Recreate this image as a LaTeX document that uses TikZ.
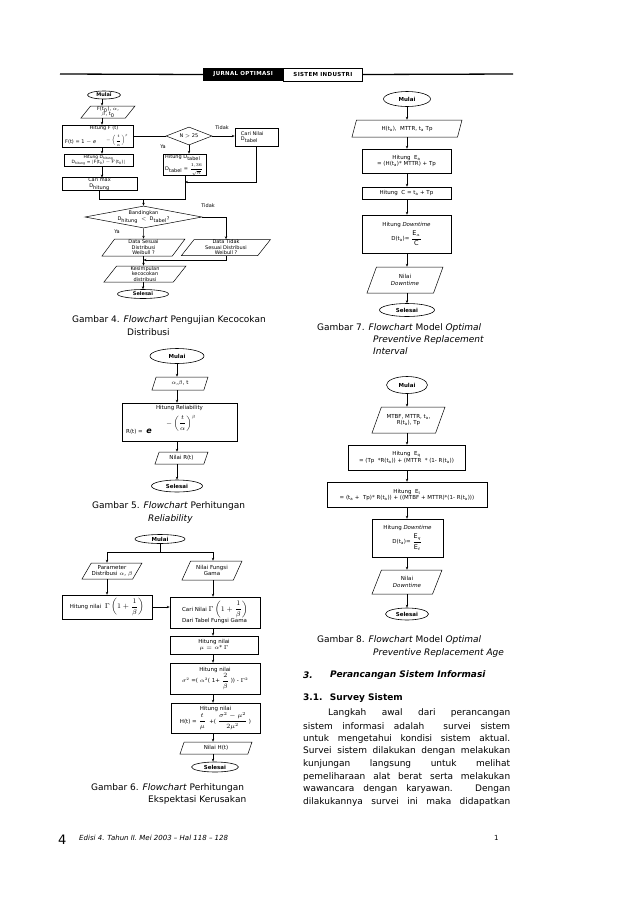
\RequirePackage{fix-cm}
\documentclass[tikz,border=0pt]{standalone}
\usepackage{fontspec}
\usepackage{amsmath}
\setmainfont{DejaVu Sans}
\usetikzlibrary{shapes.geometric,arrows.meta}
\newcommand{\sbs}[1]{\textsubscript{#1}}
\begin{document}
\begin{tikzpicture}[x=1pt,y=-1pt,
  fc/.style={font=\fontsize{5.5}{6}\selectfont, inner sep=0pt, align=center},
  fcs/.style={font=\fontsize{5}{5.6}\selectfont},
  term/.style={fc, ellipse, draw, line width=0.6pt, font=\fontsize{5.5}{6}\selectfont\bfseries},
  io/.style={fc, trapezium, trapezium left angle=50, trapezium right angle=130, trapezium stretches body, draw, line width=0.5pt},
  proc/.style={fc, rectangle, draw, line width=0.5pt},
  decis/.style={fc, diamond, draw, line width=0.5pt},
  arr/.style={-{Stealth[length=3pt,width=2.4pt]}, line width=0.5pt},
  wire/.style={line width=0.5pt},
  capt/.style={font=\fontsize{9}{11}\selectfont, anchor=west, inner sep=0pt},
  bodytxt/.style={font=\fontsize{9}{11}\selectfont, anchor=west, inner sep=0pt},
]
\useasboundingbox[fill=white] (0,0) rectangle (638,903);

% ---------- header ----------
\coordinate (hl1) at (60,74);
\coordinate (hl2) at (513,74);
\node[fill=black, text=white, minimum width=80, minimum height=13, inner sep=0pt, anchor=west,
      font=\fontsize{5.5}{6}\selectfont\bfseries\addfontfeatures{LetterSpace=6}] (hj) at (203,74.5) {JURNAL OPTIMASI};
\node[draw=black, line width=0.8pt, minimum width=79, minimum height=13, inner sep=0pt, anchor=west,
      font=\fontsize{5.5}{6}\selectfont\bfseries\addfontfeatures{LetterSpace=6}] (hs) at (283,74.5) {SISTEM INDUSTRI};
\draw[line width=1.3pt] (hl1) -- (hj.west);
\draw[line width=1.3pt] (hs.east) -- (hl2);

% ---------- Figure 4 ----------
\coordinate (c4) at (102,0);
\node[term, minimum width=33, minimum height=8, font=\fontsize{5}{5.5}\selectfont\bfseries] (m4) at (104,95) {Mulai};
\node[io, fcs, minimum width=54, minimum height=12] (p4) at (108,112) {F(t\sbs{0}), $\alpha$,\\ $\beta$, t\sbs{0}};
\node[proc, minimum width=71, minimum height=22] (r4a) at (97.5,136) {};
\node[fc, fcs] at (104,128.5) {Hitung F (t)};
\node[fc, fcs, anchor=west] at (65,142) {F(t) = 1 $-$ \textit{e}};
\node[fc, font=\fontsize{4.2}{5}\selectfont, anchor=west] at (106,140.5) {$-\left(\dfrac{t}{\alpha}\right)^{\beta}$};
\node[decis, minimum width=46, minimum height=18] (d4) at (189,136) {};
\node[fc, fcs] at (189,136) {N $>$ 25};
\node[proc, fcs, minimum width=43, minimum height=18, align=left] (r4b) at (256.5,137) {Cari Nilai\\ D\sbs{tabel}\hspace*{14pt}};
\node[proc, minimum width=43, minimum height=21] (r4c) at (185,164.5) {};
\node[fc, fcs, anchor=west] at (165,157.5) {Hitung D\sbs{tabel}};
\node[fc, fcs, anchor=west] at (165,169.5) {D\sbs{tabel} = {\fontsize{4.5}{5}\selectfont$\dfrac{1{,}36}{\sqrt{n}}$}};
\node[proc, font=\fontsize{4.4}{5}\selectfont, minimum width=69, minimum height=12] (r4d) at (98.5,160) {Hitung D\sbs{hitung}\\ D\sbs{hitung} = $|$F(t\sbs{0}) $-$ F'(t\sbs{0})$|$};
\node[proc, fcs, minimum width=75, minimum height=12] (r4e) at (99.5,184) {Cari max\\ D\sbs{hitung}};
\draw[arr] (c4 |- m4.south) -- (c4 |- p4.north);
\draw[arr] (c4 |- p4.south) -- (c4 |- r4a.north);
\draw[arr] (c4 |- r4a.south) -- (c4 |- r4d.north);
\draw[arr] (c4 |- r4d.south) -- (c4 |- r4e.north);
\draw[wire] (r4a.east) -- (d4.west);
\draw[arr] (d4.east) -- (d4.east -| r4b.west);
\node[fc, fcs] at (222,128) {Tidak};
\draw[arr] (d4.south) -- (d4.south |- r4c.north);
\node[fc, fcs] at (163,147) {Ya};
\coordinate (y4a) at (0,182);
\coordinate (y4b) at (0,199);
\draw[arr] (r4b.south) -- (r4b.south |- y4a) -- (r4c.south |- y4a);
\draw[wire] (r4e.south) -- (r4e.south |- y4b) -- (r4c.south |- y4b) -- (r4c.south);
\coordinate (j4) at (143.5,199);
\node[decis, minimum width=117, minimum height=22] (d4b) at (143.5,217) {};
\node[fc, fcs] at (143.5,217) {Bandingkan\\ D\sbs{hitung} \ $<$ \ D\sbs{tabel}?};
\draw[arr] (j4) -- (d4b.north);
\node[io, fcs, minimum width=83, minimum height=17] (p4a) at (143.5,247.5) {Data Sesuai\\ Distribusi\\ Weibull ?};
\node[io, fcs, minimum width=89, minimum height=16] (p4b) at (226,247.5) {Data Tidak\\ Sesuai Distribusi\\ Weibull ?};
\draw[arr] (d4b.east) -| (p4b.north);
\node[fc, fcs] at (208,206) {Tidak};
\draw[arr] (d4b.south) -- (p4a.north);
\node[fc, fcs] at (117,232) {Ya};
\coordinate (j4b) at (143.5,260);
\draw[arr] (p4b.south) |- (j4b);
\node[io, fcs, minimum width=82, minimum height=16] (p4c) at (145,274) {Kesimpulan\\ kecocokan\\ distribusi};
\draw[arr] (p4a.south) -- (p4a.south |- p4c.north);
\node[term, minimum width=51, minimum height=9, font=\fontsize{5}{5.5}\selectfont\bfseries] (s4) at (143,294) {Selesai};
\draw[arr] (s4.north |- p4c.south) -- (s4.north);
\node[capt] at (72,320) {Gambar 4. \textit{Flowchart} Pengujian Kecocokan};
\node[capt] at (127,332) {Distribusi};

% ---------- Figure 5 ----------
\coordinate (c5) at (177,0);
\node[term, minimum width=54, minimum height=15] (m5) at (177,356) {Mulai};
\node[io, minimum width=56, minimum height=13] (p5) at (180,383.5) {$\alpha$,$\beta$, t};
\node[proc, minimum width=115, minimum height=38] (r5) at (179.5,422) {};
\node[fc] at (179.5,407.5) {Hitung Reliability};
\node[fc, anchor=west] at (126,432) {R(t) =\ \ {\fontsize{8}{8}\selectfont\bfseries\itshape e}};
\node[fc, font=\fontsize{6.3}{7}\selectfont] at (181,423) {$-\left(\dfrac{t}{\alpha}\right)^{\beta}$};
\node[io, minimum width=53, minimum height=12] (p5b) at (181.5,458) {Nilai R(t)};
\node[term, minimum width=51, minimum height=12] (s5) at (177,486) {Selesai};
\draw[arr] (c5 |- m5.south) -- (c5 |- p5.north);
\draw[arr] (c5 |- p5.south) -- (c5 |- r5.north);
\draw[arr] (c5 |- r5.south) -- (c5 |- p5b.north);
\draw[arr] (c5 |- p5b.south) -- (c5 |- s5.north);
\node[capt] at (92,506) {Gambar 5. \textit{Flowchart} Perhitungan};
\node[capt] at (148,519) {\textit{Reliability}};

% ---------- Figure 6 ----------
\coordinate (c6a) at (107,0);
\coordinate (c6b) at (213,0);
\node[term, minimum width=50, minimum height=9] (m6) at (160,539) {Mulai};
\coordinate (j6) at (160,552);
\node[io, minimum width=60, minimum height=16] (p6a) at (112,571) {Parameter\\ Distribusi $\alpha$, $\beta$};
\node[io, minimum width=60, minimum height=19] (p6b) at (212,570.5) {Nilai Fungsi\\ Gama};
\node[proc, minimum width=90, minimum height=24] (r6a) at (107,607) {Hitung nilai \ {\fontsize{7}{8}\selectfont$\Gamma\left(1+\dfrac{1}{\beta}\right)$}};
\node[proc, minimum width=90, minimum height=31, align=left] (r6b) at (215,612.5) {Cari Nilai {\fontsize{7}{8}\selectfont$\Gamma\left(1+\dfrac{1}{\beta}\right)$}\\ Dari Tabel Fungsi Gama};
\node[proc, minimum width=88, minimum height=18] (r6c) at (214,645) {Hitung nilai\\ $\mu = \alpha$* $\Gamma$};
\node[proc, minimum width=90, minimum height=31] (r6d) at (215,678.5) {Hitung nilai\\ $\sigma^2$ =( $\alpha^2$( 1+ {\fontsize{6.5}{7}\selectfont$\dfrac{2}{\beta}$} )) - $\Gamma^2$};
\node[proc, minimum width=89, minimum height=30] (r6e) at (215.5,718) {Hitung nilai\\ H(t) = {\fontsize{6.5}{7}\selectfont$\dfrac{t}{\mu}$} \ +( {\fontsize{6.5}{7}\selectfont$\dfrac{\sigma^2-\mu^2}{2\mu^2}$} )};
\node[io, minimum width=72, minimum height=12] (p6c) at (216,748) {Nilai H(t)};
\node[term, minimum width=47, minimum height=10] (s6) at (215,767) {Selesai};
\draw[wire] (m6.south) -- (j6);
\draw[wire] (c6a |- j6) -- (c6b |- j6);
\draw[arr] (c6a |- j6) -- (c6a |- p6a.north);
\draw[arr] (c6b |- j6) -- (c6b |- p6b.north);
\draw[arr] (c6a |- p6a.south) -- (c6a |- r6a.north);
\draw[arr] (c6b |- p6b.south) -- (c6b |- r6b.north);
\draw[arr] (r6a.east) -- (r6a.east -| r6b.west);
\draw[arr] (c6b |- r6b.south) -- (c6b |- r6c.north);
\draw[arr] (c6b |- r6c.south) -- (c6b |- r6d.north);
\draw[arr] (c6b |- r6d.south) -- (c6b |- r6e.north);
\draw[arr] (c6b |- r6e.south) -- (c6b |- p6c.north);
\draw[arr] (c6b |- p6c.south) -- (c6b |- s6.north);
\node[capt] at (91,788) {Gambar 6. \textit{Flowchart} Perhitungan};
\node[capt] at (148,800) {Ekspektasi Kerusakan};

% ---------- Figure 7 ----------
\coordinate (c7) at (407,0);
\node[term, minimum width=47, minimum height=15] (m7) at (407,99) {Mulai};
\node[io, minimum width=110, minimum height=17] (p7) at (407,128.5) {H(t\sbs{a}), \ MTTR, t\sbs{a} Tp};
\node[proc, minimum width=89, minimum height=24] (r7a) at (406.5,161) {Hitung \ E\sbs{a}\\ = (H(t\sbs{a})* MTTR) + Tp};
\node[proc, minimum width=89, minimum height=12] (r7b) at (406.5,193) {Hitung \ C = t\sbs{a} + Tp};
\node[proc, minimum width=89, minimum height=38] (r7c) at (406.5,234) {Hitung \textit{Downtime}\\[2pt] D(t\sbs{a})= {\fontsize{6.5}{7}\selectfont$\dfrac{\mathrm{E}_a}{\mathrm{C}}$}};
\node[io, minimum width=76, minimum height=26] (p7b) at (405,280) {Nilai\\[1pt] \textit{Downtime}};
\node[term, minimum width=55, minimum height=13] (s7) at (407,310) {Selesai};
\draw[arr] (c7 |- m7.south) -- (c7 |- p7.north);
\draw[arr] (c7 |- p7.south) -- (c7 |- r7a.north);
\draw[arr] (c7 |- r7a.south) -- (c7 |- r7b.north);
\draw[arr] (c7 |- r7b.south) -- (c7 |- r7c.north);
\draw[arr] (c7 |- r7c.south) -- (c7 |- p7b.north);
\draw[arr] (c7 |- p7b.south) -- (c7 |- s7.north);
\node[capt] at (317,328) {Gambar 7. \textit{Flowchart} Model \textit{Optimal}};
\node[capt] at (373,340) {\textit{Preventive Replacement}};
\node[capt] at (373,351) {\textit{Interval}};

% ---------- Figure 8 ----------
\node[term, minimum width=41, minimum height=17] (m8) at (407,385) {Mulai};
\node[io, minimum width=73, minimum height=26] (p8) at (408.5,420) {MTBF, MTTR, t\sbs{a},\\ R(t\sbs{a}), Tp};
\node[proc, minimum width=117, minimum height=25] (r8a) at (406.5,457.5) {Hitung \ E\sbs{q}\\ = (Tp \ *R(t\sbs{a})) + (MTTR \ * (1- R(t\sbs{a}))};
\node[proc, minimum width=160, minimum height=25] (r8b) at (407,494.5) {Hitung \ E\sbs{t}\\ = (t\sbs{a} + \ Tp)* R(t\sbs{a})) + ((MTBF + MTTR)*(1- R(t\sbs{a})))};
\node[proc, minimum width=71, minimum height=38] (r8c) at (407.5,538) {Hitung \textit{Downtime}\\[2pt] D(t\sbs{a})= {\fontsize{6.5}{7}\selectfont$\dfrac{\mathrm{E}_q}{\mathrm{E}_t}$}};
\node[io, minimum width=70, minimum height=24] (p8b) at (407,582) {Nilai\\[1pt] \textit{Downtime}};
\node[term, minimum width=43, minimum height=12] (s8) at (407,614) {Selesai};
\draw[arr] (c7 |- m8.south) -- (c7 |- p8.north);
\draw[arr] (c7 |- p8.south) -- (c7 |- r8a.north);
\draw[arr] (c7 |- r8a.south) -- (c7 |- r8b.north);
\draw[arr] (c7 |- r8b.south) -- (c7 |- r8c.north);
\draw[arr] (c7 |- r8c.south) -- (c7 |- p8b.north);
\draw[arr] (c7 |- p8b.south) -- (c7 |- s8.north);
\node[capt] at (317,640) {Gambar 8. \textit{Flowchart} Model \textit{Optimal}};
\node[capt] at (373,653) {\textit{Preventive Replacement Age}};

% ---------- section text ----------
\node[bodytxt, font=\fontsize{9}{11}\selectfont\bfseries\itshape] at (303,675) {3.};
\node[bodytxt, font=\fontsize{9}{11}\selectfont\bfseries\itshape] at (330,675) {Perancangan Sistem Informasi};
\node[bodytxt, font=\fontsize{9}{11}\selectfont\bfseries] at (303,698) {3.1. \ Survey Sistem};
\node[bodytxt] at (328,713) {\makebox[182pt][s]{Langkah awal dari perancangan}};
\node[bodytxt] at (303,726) {\makebox[207pt][s]{sistem informasi adalah \ survei sistem}};
\node[bodytxt] at (303,739) {\makebox[207pt][s]{untuk mengetahui kondisi sistem aktual.}};
\node[bodytxt] at (303,751) {\makebox[207pt][s]{Survei sistem dilakukan dengan melakukan}};
\node[bodytxt] at (303,764) {\makebox[207pt][s]{kunjungan langsung untuk melihat}};
\node[bodytxt] at (303,777) {\makebox[207pt][s]{pemeliharaan alat berat serta melakukan}};
\node[bodytxt] at (303,789) {\makebox[207pt][s]{wawancara dengan karyawan. Dengan}};
\node[bodytxt] at (303,802) {\makebox[207pt][s]{dilakukannya survei ini maka didapatkan}};

% ---------- footer ----------
\node[anchor=west, inner sep=0pt, font=\fontsize{13}{14}\selectfont] at (58,840) {4};
\node[anchor=west, inner sep=0pt, font=\fontsize{7}{8}\selectfont\itshape] at (79,838) {Edisi 4. Tahun II. Mei 2003 – Hal 118 – 128};
\node[anchor=west, inner sep=0pt, font=\fontsize{7}{8}\selectfont] at (494,838) {1};
\end{tikzpicture}
\end{document}
